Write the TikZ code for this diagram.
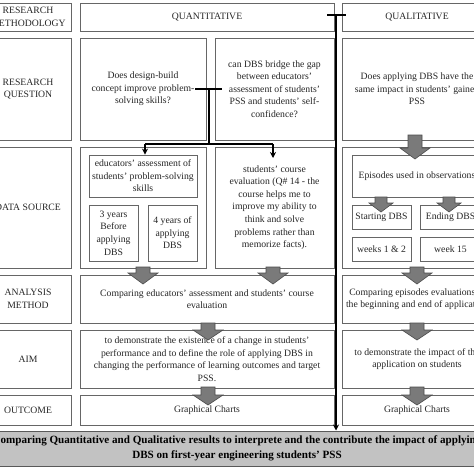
\documentclass[tikz,border=0pt]{standalone}
\usepackage{fontspec}
\setmainfont{Liberation Serif}
\usetikzlibrary{arrows.meta}
\newcommand{\grayarr}[6]{\filldraw[garrow] ({#1-#4},#2) -- ({#1+#4},#2) -- ({#1+#4},{#3-#6}) -- ({#1+#5},{#3-#6}) -- (#1,#3) -- ({#1-#5},{#3-#6}) -- ({#1-#4},{#3-#6}) -- cycle;}
\begin{document}
\begin{tikzpicture}[x=1pt,y=-1pt,
  box/.style={draw=black!60, line width=0.9pt, align=center, inner sep=0pt, font=\fontsize{9.7}{12.6}\selectfont, text=black!85},
  sz/.style 2 args={minimum width=#1, minimum height=#2},
  barbox/.style={draw=black!65, fill=black!24, line width=1pt, align=center, inner sep=0pt, font=\fontsize{11.1}{15}\selectfont\bfseries},
  conn/.style={line width=1.3pt, black},
  tip/.style={-{Stealth[length=6pt,width=6pt]}},
  garrow/.style={fill=black!52, draw=black!70, line width=0.6pt}
]
\useasboundingbox (0,0) rectangle (474,474);
\clip (0,0) rectangle (474,474);
\fill[white] (0,0) rectangle (474,474);
% row 1
\node[box, sz={86pt}{28pt}] (m0) at (28,17) {RESEARCH\\METHODOLOGY};
\node[box, sz={254pt}{28pt}] (m1) at (207,17) {QUANTITATIVE};
\node[box, sz={150pt}{28pt}] (m2) at (417,17) {QUALITATIVE};
% row 2
\node[box, sz={86pt}{102pt}] (r0) at (28,89) {RESEARCH\\QUESTION};
\node[box, sz={126pt}{102pt}] (q1) at (143,89) {Does design-build\\concept improve problem-\\solving skills?};
\node[box, sz={119pt}{102pt}] (q2) at (274.5,89) {can DBS bridge the gap\\between educators'\\assessment of students'\\PSS and students' self-\\confidence?};
\node[box, sz={150pt}{102pt}] (q3) at (417,89) {Does applying DBS have the\\same impact in students' gained\\PSS};
% row 3
\node[box, sz={86pt}{121pt}] (d0) at (28,207.5) {DATA SOURCE};
\node[box, sz={126pt}{121pt}] (d1) at (143,207.5) {};
\node[box, sz={119pt}{121pt}] (d2) at (274.5,207.5) {students' course\\evaluation (Q\# 14 - the\\course helps me to\\improve my ability to\\think and solve\\problems rather than\\memorize facts).};
\node[box, sz={150pt}{121pt}] (d3) at (417,207.5) {};
\node[box, sz={108pt}{42pt}] (e1) at (143,176) {educators' assessment of\\students' problem-solving\\skills};
\node[box, sz={49pt}{56pt}] (y3) at (113.5,233) {3 years\\Before\\applying\\DBS};
\node[box, sz={49pt}{56pt}] (y4) at (172.5,233) {4 years of\\applying\\DBS};
\node[box, sz={130pt}{42pt}] (ep) at (417,176) {Episodes used in observations};
\node[box, sz={59pt}{24pt}] (sd) at (381.5,217) {Starting DBS};
\node[box, sz={61pt}{24pt}] (ed) at (450.5,217) {Ending DBS};
\node[box, sz={59pt}{24pt}] (w12) at (381.5,249) {weeks 1 \& 2};
\node[box, sz={61pt}{24pt}] (w15) at (450.5,249) {week 15};
% row 4
\node[box, sz={86pt}{48pt}] (a0) at (28,299) {ANALYSIS\\METHOD};
\node[box, sz={254pt}{48pt}] (a1) at (207,299) {Comparing educators' assessment and students' course\\evaluation};
\node[box, sz={150pt}{48pt}] (a2) at (417,299) {Comparing episodes evaluations at\\the beginning and end of application};
% row 5
\node[box, sz={86pt}{58pt}] (i0) at (28,359) {AIM};
\node[box, sz={254pt}{58pt}] (i1) at (207,359) {to demonstrate the existence of a change in students'\\performance and to define the role of applying DBS in\\changing the performance of learning outcomes and target\\PSS.};
\node[box, sz={150pt}{58pt}] (i2) at (417,359) {to demonstrate the impact of the\\application on students};
% row 6
\node[box, sz={86pt}{30pt}] (o0) at (28,410) {OUTCOME};
\node[box, sz={254pt}{30pt}] (o1) at (207,410) {Graphical Charts};
\node[box, sz={150pt}{30pt}] (o2) at (417,410) {Graphical Charts};
% bottom bar
\node[barbox, minimum width=520pt, minimum height=35pt] (bar) at (237,448.5) {Comparing Quantitative and Qualitative results to interprete and the contribute the impact of applying\\DBS on first-year engineering students' PSS};
% gray block arrows
\grayarr{415}{135}{159}{7}{15}{11}
\grayarr{381}{197}{212}{6}{12}{9}
\grayarr{449}{197}{212}{6}{12}{9}
\grayarr{143}{267}{284}{7}{15}{11}
\grayarr{273}{267}{284}{7}{15}{11}
\grayarr{417}{267}{284}{7}{15}{11}
\grayarr{208}{323}{340}{7}{15}{10}
\grayarr{417}{323}{340}{7}{15}{10}
\grayarr{208}{387}{405}{7}{15}{10}
\grayarr{417}{387}{405}{7}{15}{10}
% black connectors
\coordinate (qa) at (195,89);
\coordinate (qb) at (222,89);
\coordinate (qj) at (209,89);
\coordinate (hj) at (209,144);
\coordinate (hl) at (145,144);
\coordinate (hr) at (273,144);
\draw[conn] (qa) -- (qb);
\draw[conn] (qj) -- (hj);
\draw[conn] (hl) -- (hr);
\draw[conn, tip] (hl) -- (e1.north -| hl);
\draw[conn, tip] (hr) -- (273,158);
\coordinate (tk) at (336,15);
\draw[conn] (327,15) -- (346,15);
\draw[conn, tip] (tk) -- (bar.north -| tk);
\end{tikzpicture}
\end{document}
